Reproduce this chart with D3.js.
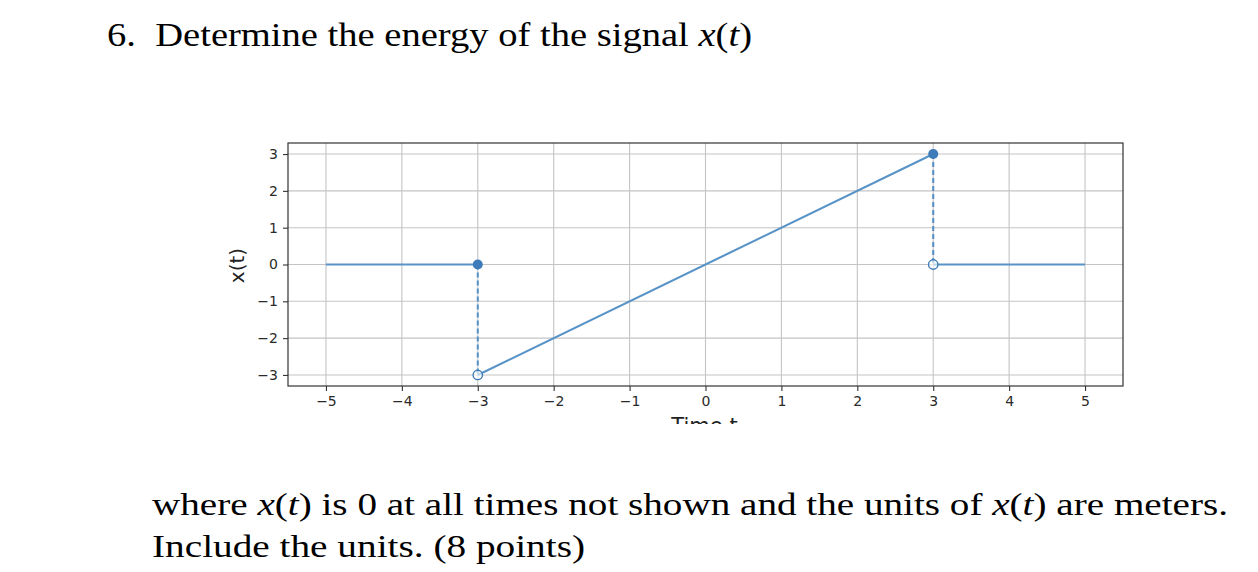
<!DOCTYPE html>
<html><head><meta charset="utf-8">
<script src="https://cdn.jsdelivr.net/npm/d3@7"></script>
<style>body{margin:0;background:#fff}</style>
</head><body>
<svg id="c" width="1258" height="572"></svg>
<script>
// data
const solidSegments = [
  [[-5, 0], [-3, 0]],
  [[-3, -3], [3, 3]],
  [[3, 0], [5, 0]]
];
const dashedSegments = [
  [[-3, 0], [-3, -3]],
  [[3, 3], [3, 0]]
];
const filledPoints = [[-3, 0], [3, 3]];
const openPoints = [[-3, -3], [3, 0]];
const xTicks = [-5, -4, -3, -2, -1, 0, 1, 2, 3, 4, 5];
const yTicks = [-3, -2, -1, 0, 1, 2, 3];
const titleText = "6.  Determine the energy of the signal ";
const line1 = ["where ", "x(t)", " is 0 at all times not shown and the units of ", "x(t)", " are meters."];
const line2 = "Include the units. (8 points)";

const svg = d3.select("#c");
const L = 288, R = 1123, T = 143, B = 386;
const x = d3.scaleLinear().domain([-5.5, 5.5]).range([L, R]);
const y = d3.scaleLinear().domain([-3.3, 3.3]).range([B, T]);
const blue = "#5893c7";
const dark = "#3d7cb9";

const serif = "'Liberation Serif', 'DejaVu Serif', serif";
const sans = "'DejaVu Sans', sans-serif";

function addMath(t) {
  t.append("tspan").attr("font-style", "italic").text("x");
  t.append("tspan").text("(");
  t.append("tspan").attr("font-style", "italic").text("t");
  t.append("tspan").text(")");
}

// title
const tt = svg.append("text").attr("x", 107).attr("y", 46)
  .attr("font-family", serif).attr("font-size", 33).attr("fill", "#000")
  .attr("xml:space", "preserve").style("white-space", "pre")
  .attr("textLength", 645).attr("lengthAdjust", "spacingAndGlyphs");
tt.append("tspan").text(titleText);
addMath(tt);

// grid
const g = svg.append("g");
g.selectAll(".gx").data(xTicks).join("line")
  .attr("x1", d => x(d)).attr("x2", d => x(d)).attr("y1", T).attr("y2", B)
  .attr("stroke", "#c4c4c4").attr("stroke-width", 1.1);
g.selectAll(".gy").data(yTicks).join("line")
  .attr("y1", d => y(d)).attr("y2", d => y(d)).attr("x1", L).attr("x2", R)
  .attr("stroke", "#c4c4c4").attr("stroke-width", 1.1);

// axes
const xAxis = d3.axisBottom(x).tickValues(xTicks).tickSize(5).tickPadding(5).tickFormat(d3.format("d"));
const yAxis = d3.axisLeft(y).tickValues(yTicks).tickSize(5).tickPadding(5).tickFormat(d3.format("d"));
const ax = svg.append("g").attr("transform", `translate(0,${B})`).call(xAxis);
const ay = svg.append("g").attr("transform", `translate(${L},0)`).call(yAxis);
[ax, ay].forEach(a => {
  a.attr("font-size", null).attr("font-family", null);
  a.select(".domain").remove();
  a.selectAll(".tick line").attr("stroke", "#333").attr("stroke-width", 1.1);
  a.selectAll(".tick text").style("font-family", sans).style("font-size", "14px").attr("fill", "#2a2a2a");
});

// frame
svg.append("rect").attr("x", L).attr("y", T).attr("width", R - L).attr("height", B - T)
  .attr("fill", "none").attr("stroke", "#333").attr("stroke-width", 1.2);

// lines
const lineGen = d3.line().x(d => x(d[0])).y(d => y(d[1]));
svg.selectAll(".solid").data(solidSegments).join("path")
  .attr("d", lineGen).attr("fill", "none").attr("stroke", blue).attr("stroke-width", 2.1);
svg.selectAll(".dash").data(dashedSegments).join("path")
  .attr("d", lineGen).attr("fill", "none").attr("stroke", blue).attr("stroke-width", 2.1)
  .attr("stroke-dasharray", "5,3");
svg.selectAll(".fp").data(filledPoints).join("circle")
  .attr("cx", d => x(d[0])).attr("cy", d => y(d[1])).attr("r", 5).attr("fill", dark);
svg.selectAll(".op").data(openPoints).join("circle")
  .attr("cx", d => x(d[0])).attr("cy", d => y(d[1])).attr("r", 4.7)
  .attr("fill", "#fff").attr("fill-opacity", 0.6).attr("stroke", dark).attr("stroke-width", 1.4);

// axis labels
svg.append("defs").append("clipPath").attr("id", "clipx")
  .append("rect").attr("x", 0).attr("y", 0).attr("width", 1258).attr("height", 424);
svg.append("text").attr("x", (L + R) / 2 - 1).attr("y", 433).attr("text-anchor", "middle")
  .attr("clip-path", "url(#clipx)")
  .style("font-family", sans).style("font-size", "21px").attr("fill", "#222")
  .text("Time t");
svg.append("text").attr("transform", `translate(244,${(T + B) / 2 + 1}) rotate(-90)`)
  .attr("text-anchor", "middle")
  .style("font-family", sans).style("font-size", "20px").attr("fill", "#222")
  .text("x(t)");

// body text
const b1 = svg.append("text").attr("x", 152).attr("y", 515)
  .attr("font-family", serif).attr("font-size", 32).attr("fill", "#000")
  .attr("textLength", 1076).attr("lengthAdjust", "spacingAndGlyphs");
line1.forEach(s => {
  if (s === "x(t)") addMath(b1);
  else b1.append("tspan").text(s);
});
svg.append("text").attr("x", 152).attr("y", 557)
  .attr("font-family", serif).attr("font-size", 32).attr("fill", "#000")
  .attr("textLength", 433).attr("lengthAdjust", "spacingAndGlyphs").text(line2);
</script>
</body></html>
